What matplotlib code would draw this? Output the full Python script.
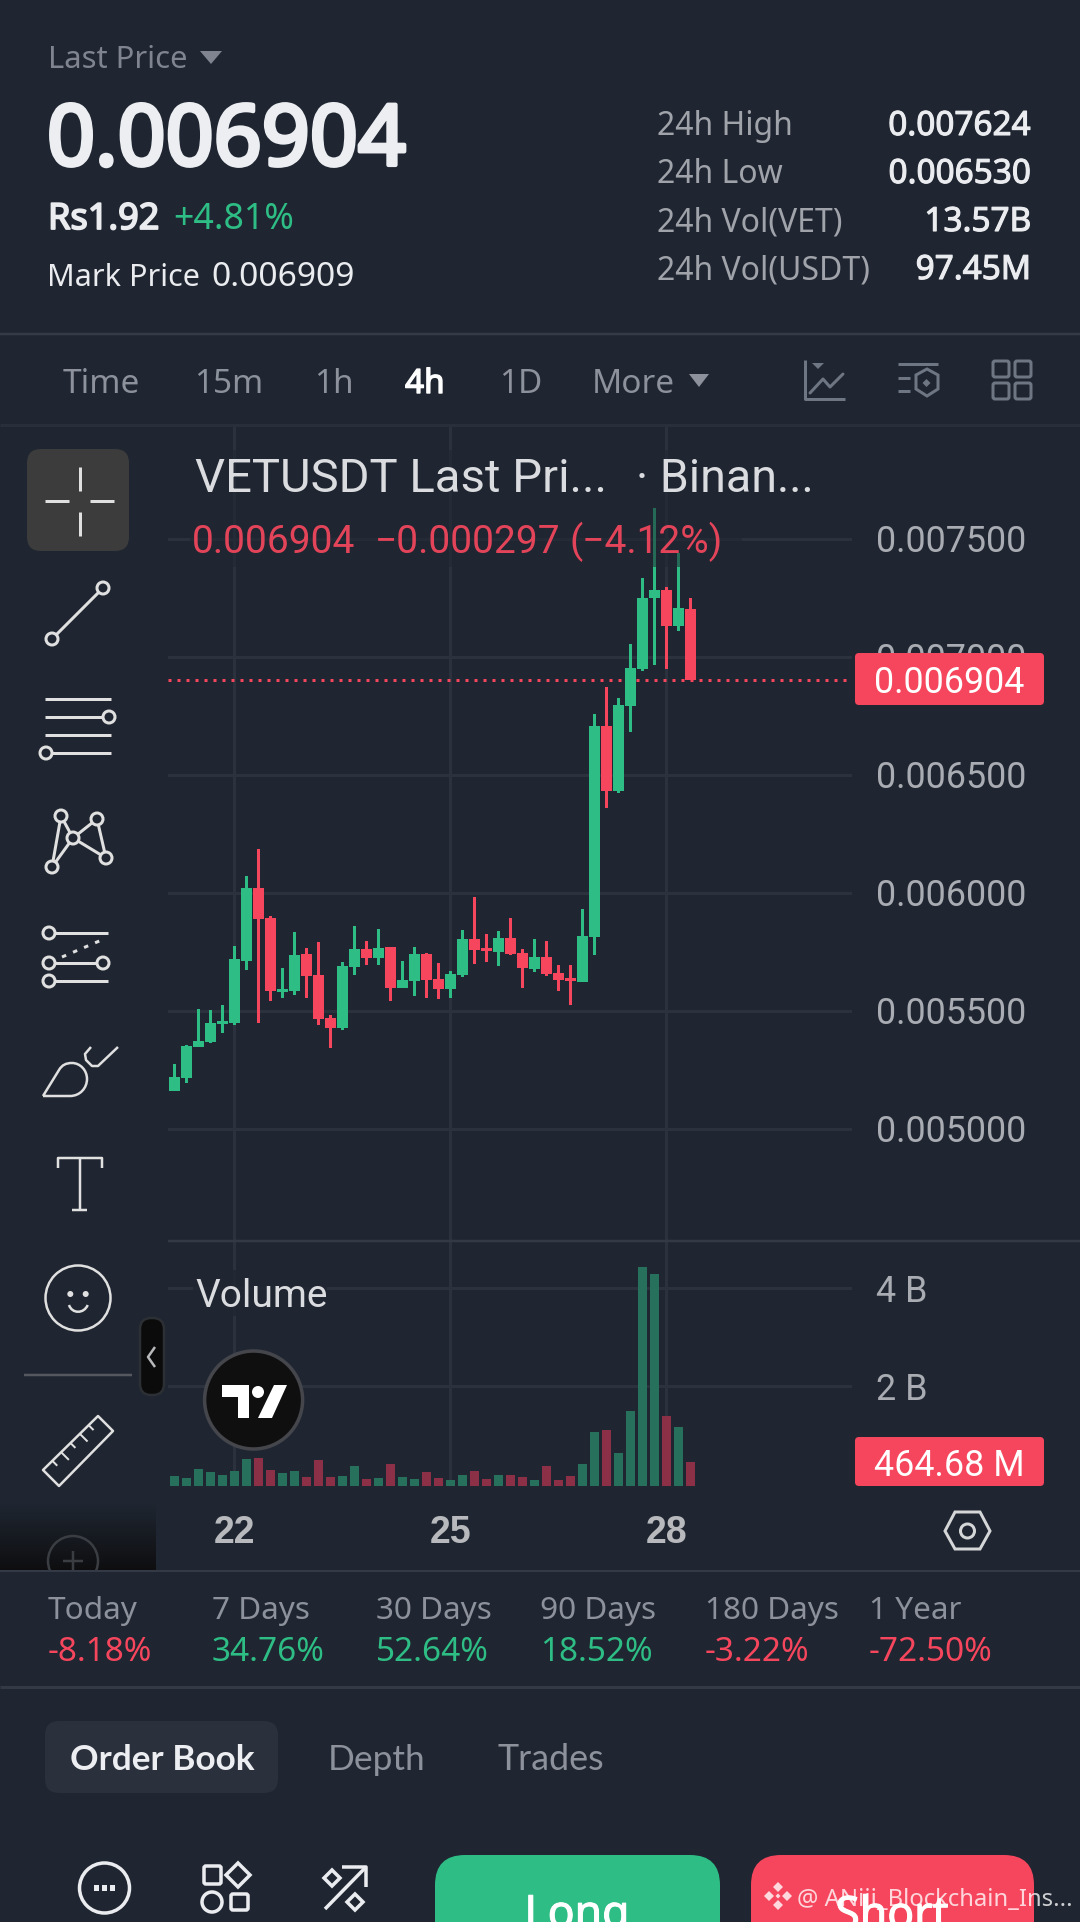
import matplotlib
matplotlib.use("Agg")
import matplotlib.pyplot as plt
import matplotlib.patheffects as pe
import numpy as np
from matplotlib.colors import LinearSegmentedColormap
from matplotlib.patches import Circle, Ellipse, FancyBboxPatch, PathPatch, Polygon, Rectangle
from matplotlib.path import Path
from matplotlib.transforms import ScaledTranslation

W, H = 1080, 1922
BG = "#1f2631"
GRID = "#2b323d"
GREEN = "#2ebd85"
RED = "#f6465d"
GREEN_DIM = "#26705c"
RED_DIM = "#8b3046"
WHITE = "#eaecef"
GREY = "#8c919b"
ICON = "#e0e0e0"
ICON2 = "#6f7683"

# 4h candles
opens = [0.005162, 0.005218, 0.005349, 0.005370, 0.005446, 0.005451, 0.005713, 0.006023, 0.005895, 0.005582, 0.005586,
         0.005743, 0.005654, 0.005472, 0.005429, 0.005688, 0.005764, 0.005726, 0.005773, 0.005599, 0.005629, 0.005743,
         0.005637, 0.005595, 0.005654, 0.005807, 0.005768, 0.005751, 0.005811, 0.005747, 0.005679, 0.005730, 0.005662,
         0.005641, 0.005624, 0.005815, 0.006709, 0.006434, 0.006794, 0.006951, 0.007251, 0.007285, 0.007133, 0.007205]
highs = [0.005277, 0.005357, 0.005510, 0.005506, 0.005527, 0.005777, 0.006073, 0.006188, 0.005904, 0.005684, 0.005836,
         0.005768, 0.005794, 0.005484, 0.005709, 0.005862, 0.005798, 0.005849, 0.005773, 0.005713, 0.005773, 0.005747,
         0.005705, 0.005671, 0.005845, 0.005984, 0.005828, 0.005840, 0.005895, 0.005764, 0.005807, 0.005798, 0.005696,
         0.005696, 0.005934, 0.006760, 0.006874, 0.006828, 0.007056, 0.007336, 0.007633, 0.007298, 0.007441, 0.007251]
lows = [0.005162, 0.005196, 0.005349, 0.005366, 0.005408, 0.005442, 0.005675, 0.005451, 0.005544, 0.005557, 0.005569,
        0.005557, 0.005442, 0.005345, 0.005421, 0.005654, 0.005696, 0.005696, 0.005544, 0.005599, 0.005565, 0.005557,
        0.005552, 0.005557, 0.005645, 0.005701, 0.005709, 0.005692, 0.005739, 0.005599, 0.005667, 0.005650, 0.005586,
        0.005527, 0.005624, 0.005739, 0.006362, 0.006425, 0.006684, 0.006942, 0.006967, 0.006951, 0.007112, 0.006904]
closes = [0.005222, 0.005353, 0.005374, 0.005451, 0.005459, 0.005722, 0.006023, 0.005891, 0.005586, 0.005595, 0.005739,
          0.005650, 0.005468, 0.005429, 0.005692, 0.005764, 0.005726, 0.005768, 0.005599, 0.005633, 0.005743, 0.005633,
          0.005595, 0.005658, 0.005807, 0.005760, 0.005756, 0.005811, 0.005743, 0.005684, 0.005730, 0.005658, 0.005633,
          0.005629, 0.005819, 0.006709, 0.006434, 0.006798, 0.006955, 0.007251, 0.007285, 0.007133, 0.007209, 0.006904]
# volume in billions
volumes = [0.17, 0.13, 0.31, 0.25, 0.19, 0.27, 0.52, 0.54, 0.29, 0.23, 0.27, 0.15, 0.50, 0.15, 0.17, 0.37, 0.11, 0.13,
           0.41, 0.15, 0.11, 0.25, 0.13, 0.09, 0.19, 0.27, 0.11, 0.19, 0.19, 0.15, 0.09, 0.37, 0.09, 0.17, 0.41, 1.07,
           1.11, 0.64, 1.50, 4.44, 4.29, 1.39, 1.17, 0.465]

price_ticks = [0.0075, 0.0070, 0.0065, 0.0060, 0.0055, 0.0050]
volume_ticks = [4, 2]
volume_tick_labels = ["4 B", "2 B"]
day_positions = [5, 23, 41]
day_labels = ["22", "25", "28"]
last_price = 0.006904
last_volume_label = "464.68 M"

intervals = ["Time", "15m", "1h", "4h", "1D", "More"]
interval_x = [63, 194, 314, 405, 499, 592]
stat_names = ["24h High", "24h Low", "24h Vol(VET)", "24h Vol(USDT)"]
stat_values = ["0.007624", "0.006530", "13.57B", "97.45M"]
stat_y = [135, 183, 231, 279]
period_names = ["Today", "7 Days", "30 Days", "90 Days", "180 Days", "1 Year"]
period_values = ["-8.18%", "34.76%", "52.64%", "18.52%", "-3.22%", "-72.50%"]
period_x = [48, 212, 376, 540, 705, 869]


def box(x0, y0, x1, y1):
    return [x0 / W, 1 - y1 / H, (x1 - x0) / W, (y1 - y0) / H]


def pt(px):
    return px * 0.72


fig = plt.figure(figsize=(W / 100, H / 100), dpi=100, facecolor=BG)

x_left = (168 - 174.3) / 12
x_right = (852 - 174.3) / 12

# price pane
ax = fig.add_axes(box(168, 426, 852, 1241))
ax.set_facecolor(BG)
ax.set_xlim(x_left, x_right)
ax.set_ylim(0.004527, 0.00798)
ax.set_xticks(day_positions)
ax.set_xticklabels([])
ax.set_yticks(price_ticks)
ax.set_yticklabels(["%.6f" % p for p in price_ticks], family="Roboto", fontsize=25.8, color="#a9acb2", va="center_baseline")
ax.yaxis.tick_right()
ax.tick_params(length=0, axis="y", pad=pt(24))
ax.tick_params(length=0, axis="x")
ax.grid(True, color=GRID, lw=pt(3))
ax.set_axisbelow(True)
for s in ax.spines.values():
    s.set_visible(False)
# labels sit a pixel above their grid lines
for t in ax.get_yticklabels():
    t.set_transform(t.get_transform() + ScaledTranslation(0, 1.2 / 100, fig.dpi_scale_trans))

x = np.arange(len(closes))
for i in x:
    c = GREEN if closes[i] >= opens[i] else RED
    ax.bar(i, highs[i] - lows[i], width=3 / 12, bottom=lows[i], color=c, zorder=3)
    ax.bar(i, abs(closes[i] - opens[i]), width=11 / 12, bottom=min(opens[i], closes[i]), color=c, zorder=3)
ax.axhline(last_price, color=RED, lw=pt(3), ls=(0, (1, 2)), zorder=2)

# volume pane
vfloor = -0.035
av = fig.add_axes(box(168, 1241, 852, 1486))
av.set_facecolor(BG)
av.set_xlim(x_left, x_right)
av.set_ylim(vfloor, 4.965)
av.set_xticks(day_positions)
av.set_xticklabels([])
av.set_yticks(volume_ticks)
av.set_yticklabels(volume_tick_labels, family="Roboto", fontsize=25.8, color="#a9acb2", va="center_baseline")
av.yaxis.tick_right()
av.tick_params(length=0, axis="y", pad=pt(24))
av.tick_params(length=0, axis="x")
av.grid(True, color=GRID, lw=pt(3))
av.set_axisbelow(True)
for s in av.spines.values():
    s.set_visible(False)
vcolors = [GREEN_DIM if closes[i] >= opens[i] else RED_DIM for i in x]
av.bar(x, np.array(volumes) - vfloor, width=9 / 12, bottom=vfloor, color=vcolors, zorder=3)

# everything else is drawn in screen pixels on top
ui = fig.add_axes([0, 0, 1, 1], zorder=10)
ui.patch.set_alpha(0)
ui.axis("off")
ui.set_xlim(0, W)
ui.set_ylim(H, 0)


def line(xs, ys, c=ICON, w=3.0, **kw):
    ui.plot(xs, ys, color=c, lw=pt(w), solid_capstyle=kw.pop("cap", "butt"), solid_joinstyle="round", **kw)


def ring(cx, cy, r, c=ICON, w=3.0):
    ui.add_patch(Circle((cx, cy), r, fc=BG, ec=c, lw=pt(w), zorder=4))


def rrect(x0, y0, x1, y1, r, fc, ec="none", lw=0, **kw):
    ui.add_patch(FancyBboxPatch((x0, y0), x1 - x0, y1 - y0, boxstyle="round,pad=0,rounding_size=%g" % r,
                                fc=fc, ec=ec, lw=lw, **kw))


def label(x0, y0, s, size, c=WHITE, ha="left", va="baseline", weight="normal", family="Noto Sans", stroke=0, **kw):
    t = ui.text(x0, y0, s, fontsize=size, color=c, ha=ha, va=va, fontweight=weight, family=family, **kw)
    # Noto Sans only comes in one weight here, so thicken it by hand
    if stroke:
        t.set_path_effects([pe.withStroke(linewidth=stroke, foreground=c)])
    return t


def diamond(cx, cy, r, fc="none", ec=ICON, w=3.0, **kw):
    ui.add_patch(Polygon([(cx - r, cy), (cx, cy - r), (cx + r, cy), (cx, cy + r)], closed=True, fc=fc, ec=ec,
                         lw=pt(w), **kw))


# header
label(48, 68, "Last Price", 22.3, "#7f8490")
ui.add_patch(Polygon([(200, 51), (222, 51), (211, 64)], fc="#7f8490", ec="none"))
label(47, 165, "0.006904", 60.5, "#eceef2", stroke=3.0)
label(48, 229, "Rs1.92", 26, WHITE, stroke=1.3)
label(173, 229, "+4.81%", 25.7, GREEN)
label(47, 286, "Mark Price", 22, WHITE)
label(211, 286, "0.006909", 24.2, WHITE)
for n, v, y in zip(stat_names, stat_values, stat_y):
    label(657, y, n, 23, "#a0a3aa")
    label(1031, y, v, 24, WHITE, ha="right", stroke=0.8)
line([0, W], [334, 334], "#343b46", 2.5)

# interval tabs
for n, xp in zip(intervals, interval_x):
    if n == "4h":
        label(xp, 393, n, 24, "#ffffff", stroke=1.0)
    else:
        label(xp, 393, n, 24, GREY)
ui.add_patch(Polygon([(689, 374), (709, 374), (699, 387)], fc=GREY, ec="none"))
line([0, W], [425, 425], "#282f3a", 3)

# tab icons
line([805, 805, 845], [360, 399, 399], ICON2, 3)
ui.add_patch(Polygon([(812, 363), (824, 363), (818, 369)], fc=ICON2, ec="none"))
line([810, 823, 830, 843], [393, 379, 387, 374], ICON2, 3, cap="round")
line([898, 938], [363.5, 363.5], ICON2, 3)
line([898, 910], [377.5, 377.5], ICON2, 3)
line([898, 910], [390.5, 390.5], ICON2, 3)
ui.add_patch(Polygon([(927, 369), (938, 375), (938, 389), (927, 396), (916, 389), (916, 375)], fc="none", ec=ICON2, lw=pt(3)))
diamond(926.5, 383, 4, fc=ICON2, ec="none")
for x0, y0 in [(993, 361), (1015, 361), (993, 383), (1015, 383)]:
    rrect(x0, y0, x0 + 16, y0 + 16, 2, "none", ICON2, pt(3))

# chart legend
ui.add_patch(Rectangle((190, 450), 552, 117, fc=BG, ec="none", alpha=0.55))
label(195, 492, "VETUSDT Last Pri...", 34, "#dadcdf", family="Roboto")
label(636, 492, "· Binan...", 33.5, "#dadcdf", family="Roboto")
label(192, 553, "0.006904", 28, "#e34459", family="Roboto")
label(375, 553, "\u22120.000297", 28, "#e34459", family="Roboto")
label(570, 553, "(\u22124.12%)", 28, "#e34459", family="Roboto")

# price tags
rrect(855, 653, 1044, 705, 4, RED)
label(949.5, 679, "%.6f" % last_price, 25.8, "#ffffff", ha="center", va="center_baseline", family="Roboto")
rrect(855, 1437, 1044, 1486, 4, RED)
label(949.5, 1462, last_volume_label, 25.8, "#ffffff", ha="center", va="center_baseline", family="Roboto")
line([168, W], [1241, 1241], "#333a45", 2.5)

# volume legend and logo
ui.add_patch(Rectangle((193, 1270), 134, 46, fc=BG, ec="none", alpha=0.8))
label(195, 1307, "Volume", 28, "#dadcdf", family="Roboto")
ui.add_patch(Circle((253.6, 1400), 49, fc="#0f0f0f", ec="#44464c", lw=pt(3.5)))
ui.add_patch(Polygon([(222, 1385), (249, 1385), (249, 1418), (238, 1418), (238, 1397), (222, 1397)], fc="white", ec="none"))
ui.add_patch(Circle((258, 1392), 6, fc="white", ec="none"))
ui.add_patch(Polygon([(274, 1385), (287, 1385), (272, 1418), (258, 1418)], fc="white", ec="none"))

# toolbar
rrect(27, 449, 129, 551, 14, "#3c3c3c")
line([80, 80], [467, 491], ICON)
line([80, 80], [512, 536], ICON)
line([45, 69], [501, 501], ICON)
line([90, 114], [501, 501], ICON)

line([52, 103], [639, 588], ICON)
ring(103, 588, 6)
ring(52, 639, 6)

for yy in [699, 717, 735, 753]:
    line([45, 111], [yy, yy], ICON)
ring(109, 717, 6)
ring(46, 753, 6)

line([52, 61, 73, 52], [867, 816, 838, 867], ICON)
line([73, 97, 106, 73], [838, 819, 858, 838], ICON)
ring(61, 816, 6)
ring(97, 819, 6)
ring(73, 838, 6)
ring(106, 858, 6)
ring(52, 867, 6)

line([49, 108], [933, 933], ICON)
line([49, 108], [963, 963], ICON)
line([49, 108], [981, 981], ICON)
line([62, 104], [957, 939], ICON, ls=(0, (1.5, 2.5)))
ring(49, 933, 6)
ring(49, 963, 6)
ring(103, 963, 6)
ring(49, 981, 6)

brush = Path([(43, 1096), (70, 1096), (80, 1096), (87, 1088), (87, 1079), (87, 1070), (80, 1063), (72, 1063),
              (66, 1063), (62, 1065), (59, 1070), (43, 1096)],
             [Path.MOVETO, Path.LINETO, Path.CURVE4, Path.CURVE4, Path.CURVE4, Path.CURVE4, Path.CURVE4, Path.CURVE4,
              Path.CURVE4, Path.CURVE4, Path.CURVE4, Path.LINETO])
ui.add_patch(PathPatch(brush, fc="none", ec=ICON, lw=pt(2.5)))
line([91, 85, 86, 92, 98, 118], [1047, 1054, 1060, 1066, 1066, 1047], ICON, 2.5)

line([57.5, 57.5, 101.5, 101.5], [1168, 1158, 1158, 1168], ICON, 2.5)
line([79.5, 79.5], [1158, 1210], ICON, 2.5)
line([72, 87], [1210, 1210], ICON, 2.5)

ui.add_patch(Ellipse((78, 1298), 65, 65, fc="none", ec=ICON, lw=pt(2.5)))
ui.add_patch(Circle((70.3, 1294), 3, fc=ICON, ec="none"))
ui.add_patch(Circle((85.7, 1294), 3, fc=ICON, ec="none"))
ui.add_patch(PathPatch(Path([(69, 1305), (72, 1314), (84, 1314), (87.7, 1305)],
                            [Path.MOVETO, Path.CURVE4, Path.CURVE4, Path.CURVE4]), fc="none", ec=ICON, lw=pt(2.5)))

rrect(140, 1318, 164, 1395, 11, "#0b0b0c", "#2c2f33", pt(2.5))
line([155, 148, 155], [1347, 1357, 1367], "#b8b9bb", 2.5)
line([24, 132], [1374.5, 1374.5], "#55585e", 2.5)

ui.add_patch(Polygon([(98, 1416), (113, 1431), (59, 1486), (43, 1470)], closed=True, fc="none", ec=ICON, lw=pt(2.5),
                     joinstyle="round"))
for t, ln in zip([0.17, 0.33, 0.5, 0.67, 0.83], [7, 11, 7, 11, 7]):
    x0 = 43 + (98 - 43) * t
    y0 = 1470 + (1416 - 1470) * t
    line([x0, x0 + ln * 0.7], [y0, y0 + ln * 0.7], ICON, 2)

fade = LinearSegmentedColormap.from_list("fade", [BG, "#0e0e10"])
ui.imshow(np.linspace(0, 1, 64).reshape(-1, 1), extent=(0, 156, 1571, 1503), aspect="auto", cmap=fade, zorder=1)
ui.set_xlim(0, W)
ui.set_ylim(H, 0)
plus_circle = Circle((73, 1561), 25, fc="none", ec="#3a3d42", lw=pt(2.5), zorder=2)
ui.add_patch(plus_circle)
plus_circle.set_clip_path(Rectangle((0, 1500), 156, 71, transform=ui.transData))
line([73, 73], [1551, 1570], "#3a3d42", 2.5, zorder=2)
line([63, 83], [1561, 1561], "#3a3d42", 2.5, zorder=2)

# day labels on the x axis
for p, s in zip(day_positions, day_labels):
    label(174.5 + 12 * p, 1543, s, 27, "#b7b9bc", ha="center", weight="bold", family="Liberation Sans")
ui.add_patch(Polygon([(945, 1531), (955, 1512), (980, 1512), (990, 1531), (980, 1549), (955, 1549)], fc="none", ec="#d5d6d8", lw=pt(3)))
ui.add_patch(Circle((967.5, 1531), 7, fc="none", ec="#d5d6d8", lw=pt(3)))
line([0, W], [1571, 1571], "#333a45", 2)

# period changes
for n, v, xp in zip(period_names, period_values, period_x):
    label(xp, 1619, n, 22.7, GREY)
    label(xp, 1661, v, 24, RED if v.startswith("-") else GREEN)
line([0, W], [1687, 1687], "#333a45", 3)

# bottom tabs
rrect(45, 1721, 278, 1793, 14, "#2a303c")
label(162, 1770, "Order Book", 25.4, "#eceef2", ha="center", weight="bold", family="Lato")
label(328, 1770, "Depth", 25.4, GREY, family="Lato")
label(497, 1770, "Trades", 25.8, GREY, family="Lato")

# bottom icons
ui.add_patch(Circle((104.5, 1888), 25, fc="none", ec=WHITE, lw=pt(3.5)))
for dx in [-8, 0, 8]:
    ui.add_patch(Rectangle((104.5 + dx - 2.5, 1885), 5, 6, fc=WHITE, ec="none"))
rrect(204, 1866, 221, 1884, 2, "none", WHITE, pt(3.5))
diamond(238, 1875, 12, ec=WHITE, w=3.5)
ui.add_patch(Circle((212, 1902), 10, fc="none", ec=WHITE, lw=pt(3.5)))
rrect(231, 1894, 248, 1910, 2, "none", WHITE, pt(3.5))
line([325, 366], [1909, 1867], WHITE, 3.5)
line([342, 366, 366], [1867, 1867, 1887], WHITE, 3.5)
diamond(332, 1878, 8, ec=WHITE, w=3.5)
diamond(355, 1902, 8, ec=WHITE, w=3.5)

# long and short buttons run off the bottom edge
rrect(435, 1855, 720, 1960, 30, GREEN)
rrect(751, 1855, 1034, 1960, 30, RED)
label(577, 1927, "Long", 32, "#ffffff", ha="center", stroke=0.8)
label(892, 1928, "Short", 32, "#ffffff", ha="center", stroke=0.8)

# watermark
for dx, dy in [(0, -9), (-9, 0), (9, 0), (0, 9)]:
    diamond(778 + dx, 1896 + dy, 5, fc="#ffffff", ec="none", w=0, alpha=0.8)
diamond(778, 1896, 2.5, fc="#ffffff", ec="none", w=0, alpha=0.8)
label(797, 1906, "@ ANiii_Blockchain_Ins...", 17.2, "#ffffff", alpha=0.78)

fig.savefig("out.png", dpi=100, facecolor=BG)
